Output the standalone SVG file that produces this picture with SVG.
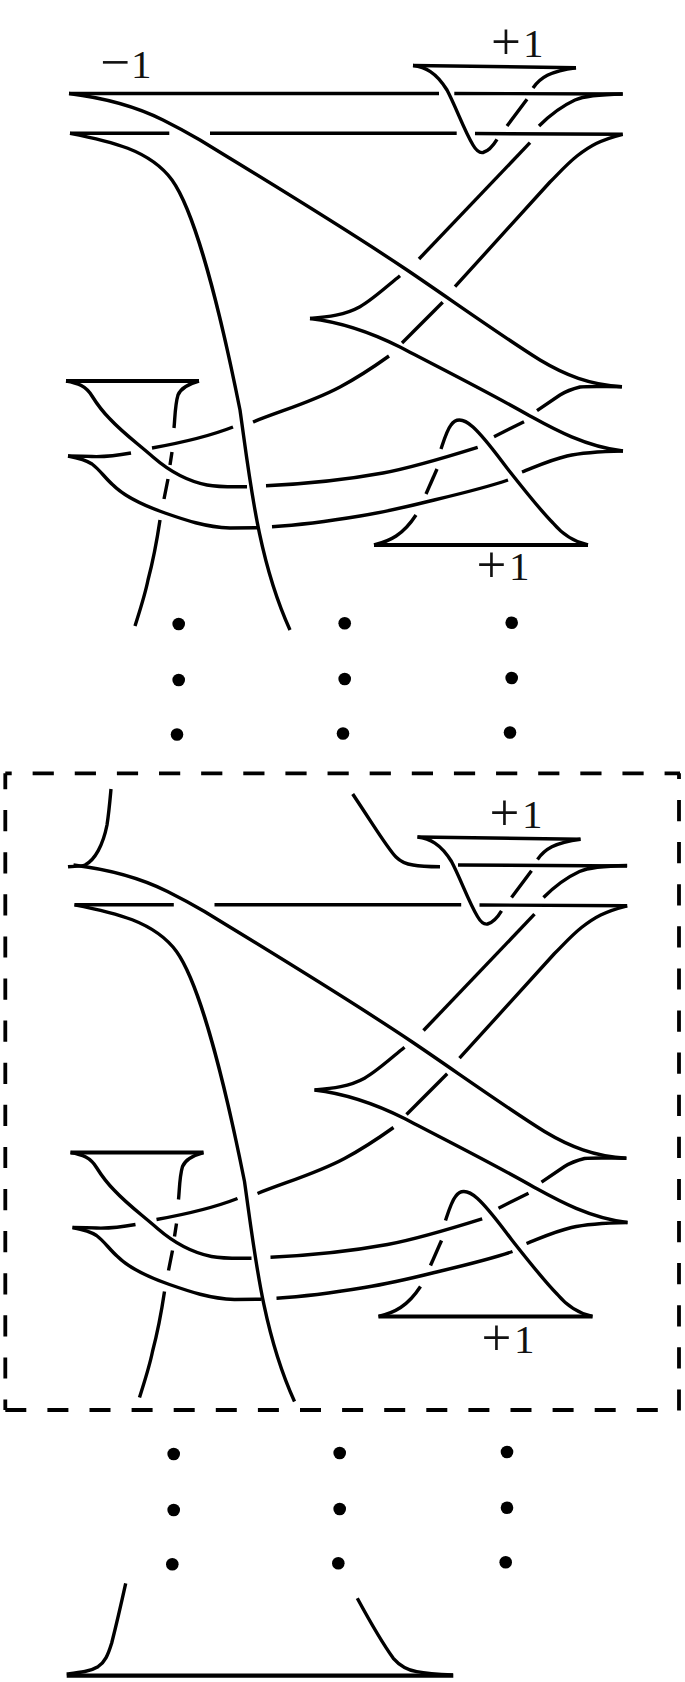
<svg xmlns="http://www.w3.org/2000/svg" xmlns:xlink="http://www.w3.org/1999/xlink" width="685" height="1682" viewBox="0 0 685 1682">
<style>
.s{fill:none;stroke:#000;stroke-width:3.4;stroke-linecap:butt;stroke-linejoin:round}
.l{stroke-width:3.9}
.b{fill:none;stroke:#000;stroke-width:3.8}
.t{font-family:"Liberation Serif","Times New Roman",serif;font-size:41px;fill:#111}
.p{font-size:53px}
.d{fill:#000}
</style>
<defs>
<g id="strands">
<path class="s" d="M210,133.3H456.7M475,133.5L622.7,134.3"/>
<path class="s" d="M70,133.3H169.3"/>
<path class="s" d="M69,93.5C105,98 135,106 163,120C175,126 188,133 200,140C270,183 340,225 407,270C450,299 500,335 540,360C565,375 590,385 622,386.7"/>
<path class="s" d="M70,133.3C110,141 150,150 172,180C195,212 220,310 240,410C250,480 258,560 290,630"/>
<path class="s" d="M413,65.5L576,67.7"/>
<path class="s" d="M413,65.5C425,67 436,72 447,90C456,107 464,130 473,145C477,152 480,153 483,152.5C488,151 493,146 497,139.3"/>
<path class="s" d="M507,126L527,99.3M533,88C540,78 550,71 576,67.7"/>
<path class="s" d="M622.7,94C600,94.5 585,95.5 575,100C562,106 552,113 539,126"/>
<path class="s" d="M530,142.7L419,259"/>
<path class="s" d="M400,275.7C385,288 372,300 360,306.7C345,315 328,317 310,318.5"/>
<path class="s" d="M622.7,134.3C600,140 590,146 577,156C567,164 560,172 550,182L455,286.7"/>
<path class="s" d="M442.7,302.3L402,343"/>
<path class="s" d="M389,356C375,366 355,379 340,387C312,402 280,411 253,422"/>
<path class="s" d="M233,427C210,436 180,443 152,448"/>
<path class="s" d="M131,453C120,455 105,457 92,456.5C83,456 75,456 68,456"/>
<path class="s" d="M68,456C78,458 86,460 92,464C100,470 105,478 113,485C125,497 145,506 165,513C185,520 205,527 230,528L257,527.7"/>
<path class="s" d="M272,526.7C300,525 330,521 360,516C385,512 410,506 430,501C455,495 485,488 508,480"/>
<path class="s" d="M522,472C535,467 550,460 567,456C580,453 600,451.5 623,451"/>
<path class="s" d="M310,318.5C340,322 370,332 400,347C440,368 490,393 530,416C550,427 585,447 623,451"/>
<path class="s" d="M621.7,386.7C605,386.7 590,386 580,387C572,389 568,390 560,395L537,410.7"/>
<path class="s" d="M524,421.7L494,436.7"/>
<path class="s" d="M477.7,447.3C450,456 415,467 383,473C350,479 305,484 266,485.7"/>
<path class="s" d="M247,486.7C232,487 218,487 207,485C187,481 168,470 153,457C137,443 123,433 110,419C103,412 97,404 92,396C86,386 78,383 66,381"/>
<path class="s l" d="M66,381H199"/>
<path class="s" d="M199,381C188,384 181,388 178,395C175,405 175,418 174,428M172,452L170,465M168,479L164,499M160,520C157,540 152,565 148,580C145,595 140,610 135,626"/>
<path class="s l" d="M374,545H588"/>
<path class="s" d="M374,545C390,541 403,535 416,515"/>
<path class="s" d="M426,494L437,469"/>
<path class="s" d="M441,449C444,440 447,430 451,425C455,419 462,417 473,427C485,438 497,455 507,468C522,487 540,510 553,523C563,535 575,542 588,545"/>
</g>
</defs>

<g id="frame">
<line class="b" x1="5.300" y1="773.300" x2="680" y2="773.300" stroke-dasharray="21.200 20.930" stroke-dashoffset="14.800"/>
<line class="b" x1="5.300" y1="773.300" x2="5.300" y2="1410" stroke-dasharray="21.200 20.900" stroke-dashoffset="5.300"/>
<line class="b" x1="679" y1="773.300" x2="679" y2="1412" stroke-dasharray="21.200 20.900" stroke-dashoffset="15.400"/>
<line class="b" x1="5.300" y1="1410" x2="658" y2="1410" stroke-dasharray="21 21.100"/>
</g>

<g id="connectors">
<g id="block-top">
<use href="#strands" xlink:href="#strands"/>
<path class="s" d="M69,93.5H439M454.3,93.5L622.7,94"/>
</g>
<g id="block-middle">
<use href="#strands" xlink:href="#strands" transform="translate(4.5 771.5)"/>
<path class="s" d="M458,865L627,866"/>
<path class="s" d="M68,866.7C75,866 80,867 85,865C95,860 103,845 107,825C109,812 110,800 111,789"/>
<path class="s" d="M440,866.7C428,866.7 418,866 413,865C405,864 400,861 396,857C388,849 378,832 352.700,794"/>
</g>
<g id="block-bottom">
<path class="s" d="M66.700,1675.700H453.300" style="stroke-width:4.200"/>
<path class="s" d="M125.700,1583.300C122,1600 117,1622 111.700,1643C108,1655 105,1662 98,1666.700C90,1671.500 80,1672.500 66.700,1674"/>
<path class="s" d="M357.300,1598.300C368,1618 380,1640 393.300,1658.300C400,1666 408,1670 416.700,1671.700C428,1674 440,1674.500 453,1675"/>
</g>
</g>

<g id="dots">
<circle class="d" cx="178.700" cy="624" r="6.300"/><circle class="d" cx="178.700" cy="680" r="6.300"/><circle class="d" cx="177" cy="734.500" r="6.300"/>
<circle class="d" cx="344.700" cy="623.300" r="6.300"/><circle class="d" cx="344.700" cy="679" r="6.300"/><circle class="d" cx="343" cy="733.500" r="6.300"/>
<circle class="d" cx="511.700" cy="622.700" r="6.300"/><circle class="d" cx="511.700" cy="678" r="6.300"/><circle class="d" cx="510" cy="732.500" r="6.300"/>
<circle class="d" cx="173.700" cy="1454" r="6.300"/><circle class="d" cx="173.700" cy="1510" r="6.300"/><circle class="d" cx="172.300" cy="1564.300" r="6.300"/>
<circle class="d" cx="339.700" cy="1453" r="6.300"/><circle class="d" cx="339.700" cy="1509" r="6.300"/><circle class="d" cx="338.300" cy="1563.300" r="6.300"/>
<circle class="d" cx="507" cy="1452" r="6.300"/><circle class="d" cx="507" cy="1507.700" r="6.300"/><circle class="d" cx="505.700" cy="1562.300" r="6.300"/>
</g>

<g id="labels">
<text class="t" y="78"><tspan class="p" x="100.500" dy="2">−</tspan><tspan x="131" dy="-2">1</tspan></text>
<text class="t" y="57"><tspan class="p" x="491" dy="2">+</tspan><tspan x="523" dy="-2">1</tspan></text>
<text class="t" y="580"><tspan class="p" x="476.500" dy="2">+</tspan><tspan x="509" dy="-2">1</tspan></text>
<text class="t" y="828"><tspan class="p" x="489.500" dy="2">+</tspan><tspan x="522" dy="-2">1</tspan></text>
<text class="t" y="1353"><tspan class="p" x="481.500" dy="2">+</tspan><tspan x="514" dy="-2">1</tspan></text>
</g>
</svg>
